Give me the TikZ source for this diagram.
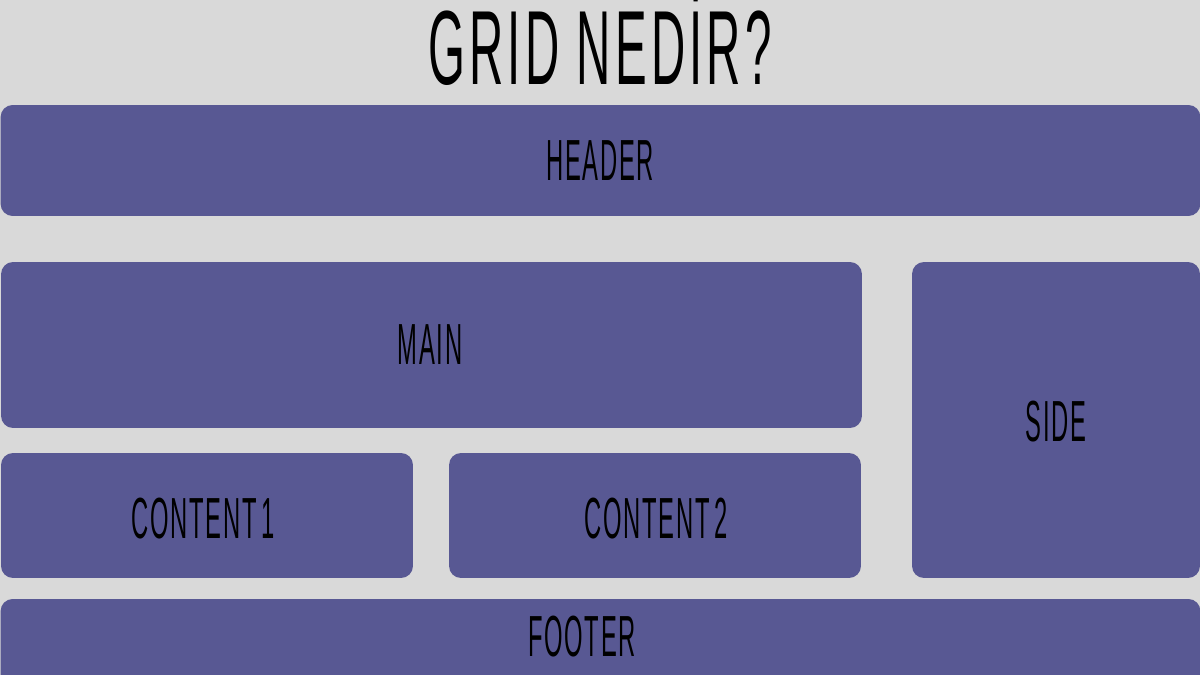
\documentclass[tikz,border=0pt]{standalone}
\usepackage{fontspec}
\setmainfont[FakeStretch=0.41,LetterSpace=3,WordSpace=0.6]{Liberation Sans}
\newfontfamily\titlefont[FakeStretch=0.45,LetterSpace=4]{Liberation Sans}
\usepackage{tikz}
\usetikzlibrary{positioning}
\usepackage{xcolor}
\definecolor{gridbg}{HTML}{D9D9D9}
\definecolor{gridbox}{HTML}{585893}
\tikzset{
  gridcell/.style={fill=gridbox, rounded corners=0.24cm, inner sep=0pt},
  celltext/.style={font=\fontsize{33}{33}\selectfont, text=black, anchor=base, inner sep=0pt},
}

\begin{document}
\begin{tikzpicture}[x=0.02cm, y=-0.02cm]
\fill[gridbg] (0,0) rectangle (1200,675);
\useasboundingbox (0,0) rectangle (1200,675);

\node[font=\titlefont\fontsize{60}{60}\selectfont, anchor=base, inner sep=0pt] (title) at (600,85) {GRID NEDİR?};

% cells
\node[gridcell, minimum width=24cm, minimum height=2.22cm] (header) at (600.5,160.5) {};
\node[gridcell, minimum width=17.22cm, minimum height=3.32cm] (main) at (431.5,345) {};
\node[gridcell, minimum width=8.24cm, minimum height=2.5cm] (content1) at (207,515.5) {};
\node[gridcell, minimum width=8.24cm, minimum height=2.5cm] (content2) at (655,515.5) {};
\node[gridcell, minimum width=5.76cm, minimum height=6.32cm] (side) at (1056,420) {};
\node[gridcell, minimum width=24cm, minimum height=1.82cm] (footer) at (600.5,644.5) {};

% labels
\node[celltext] (headertext) at (600,181) {HEADER};
\node[celltext] (maintext) at (430,365) {MAIN};
\node[celltext] (content1text) at (203,538) {CONTENT 1};
\node[celltext] (content2text) at (656,538) {CONTENT 2};
\node[celltext] (sidetext) at (1056,441) {SIDE};
\node[celltext] (footertext) at (582,656) {FOOTER};
\end{tikzpicture}
\end{document}
